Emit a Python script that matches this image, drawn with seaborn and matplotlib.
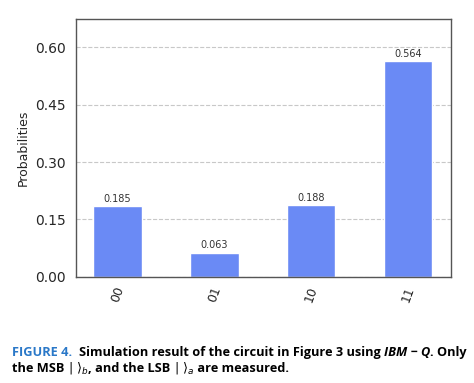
import pandas as pd
import numpy as np
import matplotlib.pyplot as plt
import seaborn as sns

# data
states = ["00", "01", "10", "11"]
probs = [0.185, 0.063, 0.188, 0.564]
yticks = [0.00, 0.15, 0.30, 0.45, 0.60]

df = pd.DataFrame({"state": states, "prob": probs})

sns.set_style("white")
plt.rcParams["font.family"] = ["DejaVu Sans"]

fig = plt.figure(figsize=(4.74, 3.83), dpi=100)
ax = fig.add_axes([0.160, 0.277, 0.791, 0.673])

sns.barplot(data=df, x="state", y="prob", color="#6a8af5", saturation=1,
            width=0.5, ax=ax, zorder=2)

for p, v in zip(ax.patches, probs):
    ax.text(p.get_x() + p.get_width() / 2, v + 0.006, f"{v:.3f}",
            ha="center", va="bottom", fontsize=7, color="#333333")

ax.set_xlim(-0.43, 3.44)
ax.set_ylim(0, 0.673)
ax.set_yticks(yticks)
ax.set_yticklabels([f"{t:.2f}" for t in yticks], fontsize=10)
ax.set_xticks(range(len(states)))
ax.set_xticklabels(states, rotation=70, fontsize=9)
ax.set_xlabel("")
ax.set_ylabel("Probabilities", fontsize=9)
ax.yaxis.grid(True, linestyle="--", color="#c8c8c8", linewidth=0.8, zorder=0)
ax.set_axisbelow(True)
ax.tick_params(axis="both", length=3.5, width=0.8, color="#444444", direction="out")
ax.tick_params(axis="x", pad=2)
for s in ax.spines.values():
    s.set_color("#555555")
    s.set_linewidth(1.0)

# caption, written as consecutive pieces
fig.canvas.draw()
renderer = fig.canvas.get_renderer()
inv = fig.transFigure.inverted()


def caption_line(pieces, x0, y0):
    x = x0
    for txt, kw in pieces:
        t = fig.text(x, y0, txt, fontsize=9.15, fontweight="bold",
                     family="Open Sans", va="baseline", **kw)
        bb = t.get_window_extent(renderer)
        x = inv.transform((bb.x1, bb.y0))[0]


blue = "#2a78c8"
caption_line([
    ("FIGURE 4.  ", {"color": blue}),
    ("Simulation result of the circuit in Figure 3 using ", {"color": "black"}),
    ("IBM \u2212 Q", {"color": "black", "style": "italic"}),
    (". Only", {"color": "black"}),
], 0.025, 0.071)
caption_line([
    ("the MSB ", {"color": "black"}),
    (r"$|\ \rangle_b$", {"color": "black"}),
    (", and the LSB ", {"color": "black"}),
    (r"$|\ \rangle_a$", {"color": "black"}),
    (" are measured.", {"color": "black"}),
], 0.025, 0.029)

fig.savefig("out.png", dpi=100)
